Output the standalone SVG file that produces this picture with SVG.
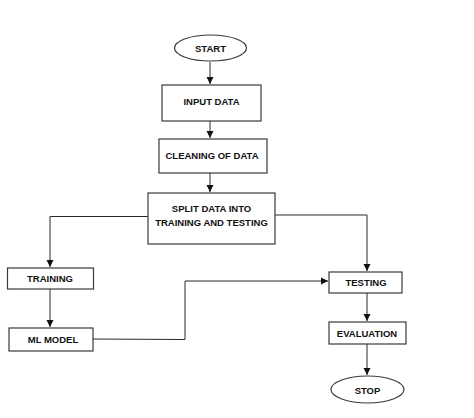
<svg xmlns="http://www.w3.org/2000/svg" width="474" height="418" viewBox="0 0 474 418">
<defs>
<marker id="ah" markerWidth="8" markerHeight="8" refX="7" refY="4" orient="auto" markerUnits="userSpaceOnUse">
<path d="M0,0.5 L7,4 L0,7.5 Z" fill="#111"/>
</marker>
<style>
.n{fill:#fff;stroke:#3a3a3a;stroke-width:1.2}
.t{font-family:"Liberation Sans",Arial,sans-serif;font-weight:bold;font-size:9.5px;fill:#111;text-anchor:middle;dominant-baseline:central}
.c{fill:none;stroke:#2a2a2a;stroke-width:1}
</style>
</defs>
<rect width="474" height="418" fill="#fff"/>
<g id="connectors">
<path class="c" d="M210,62 V84" marker-end="url(#ah)"/>
<path class="c" d="M210,121 V138" marker-end="url(#ah)"/>
<path class="c" d="M210,173 V192" marker-end="url(#ah)"/>
<path class="c" d="M148,216.5 H50 V267" marker-end="url(#ah)"/>
<path class="c" d="M275,215 H367 V271" marker-end="url(#ah)"/>
<path class="c" d="M50,289 V327" marker-end="url(#ah)"/>
<path class="c" d="M93,339 L185,339.5 V281 H328" marker-end="url(#ah)"/>
<path class="c" d="M367,293 V321" marker-end="url(#ah)"/>
<path class="c" d="M367,344 V375" marker-end="url(#ah)"/>
</g>
<g id="start">
<ellipse class="n" cx="210.5" cy="48" rx="36" ry="13"/>
<text class="t" x="210.5" y="48.5">START</text>
</g>
<g id="input">
<rect class="n" x="162" y="85" width="99" height="36"/>
<text class="t" x="211.5" y="101">INPUT DATA</text>
</g>
<g id="cleaning">
<rect class="n" x="159" y="139" width="108" height="34"/>
<text class="t" x="212" y="155">CLEANING OF DATA</text>
</g>
<g id="split">
<rect class="n" x="148" y="193" width="127" height="51"/>
<text class="t" x="211.5" y="208.5">SPLIT DATA INTO</text>
<text class="t" x="211.5" y="222.5">TRAINING AND TESTING</text>
</g>
<g id="training">
<rect class="n" x="7.5" y="268" width="86" height="21"/>
<text class="t" x="50" y="278.5">TRAINING</text>
</g>
<g id="mlmodel">
<rect class="n" x="9" y="328" width="84" height="23"/>
<text class="t" x="53" y="339.5">ML MODEL</text>
</g>
<g id="testing">
<rect class="n" x="329" y="272" width="73" height="21"/>
<text class="t" x="366" y="282.5">TESTING</text>
</g>
<g id="evaluation">
<rect class="n" x="329" y="322" width="77" height="22"/>
<text class="t" x="367" y="333">EVALUATION</text>
</g>
<g id="stop">
<ellipse class="n" cx="367.5" cy="389.5" rx="36.5" ry="13.5"/>
<text class="t" x="367.5" y="390">STOP</text>
</g>
</svg>
